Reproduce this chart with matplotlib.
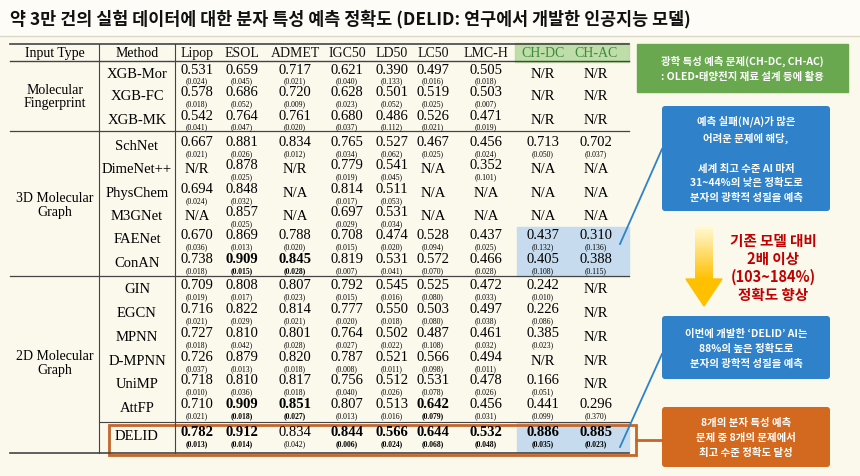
import matplotlib
matplotlib.use("Agg")
import matplotlib.pyplot as plt
from matplotlib.patches import Rectangle, FancyBboxPatch

title = "약 3만 건의 실험 데이터에 대한 분자 특성 예측 정확도 (DELID: 연구에서 개발한 인공지능 모델)"
columns = ["Lipop", "ESOL", "ADMET", "IGC50", "LD50", "LC50", "LMC-H", "CH-DC", "CH-AC"]
groups = [("Molecular\nFingerprint", 3), ("3D Molecular\nGraph", 6), ("2D Molecular\nGraph", 7)]
methods = ["XGB-Mor", "XGB-FC", "XGB-MK", "SchNet", "DimeNet++", "PhysChem", "M3GNet", "FAENet", "ConAN",
           "GIN", "EGCN", "MPNN", "D-MPNN", "UniMP", "AttFP", "DELID"]
means = [
    ["0.531", "0.659", "0.717", "0.621", "0.390", "0.497", "0.505", "N/R", "N/R"],
    ["0.578", "0.686", "0.720", "0.628", "0.501", "0.519", "0.503", "N/R", "N/R"],
    ["0.542", "0.764", "0.761", "0.680", "0.486", "0.526", "0.471", "N/R", "N/R"],
    ["0.667", "0.881", "0.834", "0.765", "0.527", "0.467", "0.456", "0.713", "0.702"],
    ["N/R", "0.878", "N/R", "0.779", "0.541", "N/A", "0.352", "N/A", "N/A"],
    ["0.694", "0.848", "N/A", "0.814", "0.511", "N/A", "N/A", "N/A", "N/A"],
    ["N/A", "0.857", "N/A", "0.697", "0.531", "N/A", "N/A", "N/A", "N/A"],
    ["0.670", "0.869", "0.788", "0.708", "0.474", "0.528", "0.437", "0.437", "0.310"],
    ["0.738", "0.909", "0.845", "0.819", "0.531", "0.572", "0.466", "0.405", "0.388"],
    ["0.709", "0.808", "0.807", "0.792", "0.545", "0.525", "0.472", "0.242", "N/R"],
    ["0.716", "0.822", "0.814", "0.777", "0.550", "0.503", "0.497", "0.226", "N/R"],
    ["0.727", "0.810", "0.801", "0.764", "0.502", "0.487", "0.461", "0.385", "N/R"],
    ["0.726", "0.879", "0.820", "0.787", "0.521", "0.566", "0.494", "N/R", "N/R"],
    ["0.718", "0.810", "0.817", "0.756", "0.512", "0.531", "0.478", "0.166", "N/R"],
    ["0.710", "0.909", "0.851", "0.807", "0.513", "0.642", "0.456", "0.441", "0.296"],
    ["0.782", "0.912", "0.834", "0.844", "0.566", "0.644", "0.532", "0.886", "0.885"],
]
stds = [
    ["0.024", "0.045", "0.021", "0.040", "0.133", "0.016", "0.018", "", ""],
    ["0.018", "0.052", "0.009", "0.023", "0.052", "0.025", "0.007", "", ""],
    ["0.041", "0.047", "0.020", "0.037", "0.112", "0.021", "0.019", "", ""],
    ["0.021", "0.026", "0.012", "0.034", "0.062", "0.025", "0.024", "0.050", "0.037"],
    ["", "0.025", "", "0.019", "0.045", "", "0.101", "", ""],
    ["0.024", "0.032", "", "0.017", "0.053", "", "", "", ""],
    ["", "0.025", "", "0.029", "0.034", "", "", "", ""],
    ["0.036", "0.013", "0.020", "0.015", "0.020", "0.094", "0.025", "0.132", "0.136"],
    ["0.018", "0.015", "0.028", "0.007", "0.041", "0.070", "0.028", "0.108", "0.115"],
    ["0.019", "0.017", "0.023", "0.015", "0.016", "0.080", "0.033", "0.010", ""],
    ["0.021", "0.029", "0.021", "0.020", "0.018", "0.080", "0.038", "0.086", ""],
    ["0.018", "0.042", "0.028", "0.027", "0.022", "0.108", "0.032", "0.023", ""],
    ["0.037", "0.013", "0.018", "0.008", "0.011", "0.098", "0.011", "", ""],
    ["0.010", "0.036", "0.018", "0.040", "0.026", "0.078", "0.026", "0.051", ""],
    ["0.021", "0.018", "0.027", "0.013", "0.016", "0.079", "0.031", "0.099", "0.370"],
    ["0.013", "0.014", "0.042", "0.006", "0.024", "0.068", "0.048", "0.035", "0.023"],
]
bold_cells = [(8, 1), (8, 2), (14, 1), (14, 2), (14, 5),
              (15, 0), (15, 1), (15, 3), (15, 4), (15, 5), (15, 6), (15, 7), (15, 8)]

SERIF = "Liberation Serif"
KR = ["Noto Sans CJK KR", "Noto Sans CJK JP", "Noto Sans CJK SC", "DejaVu Sans"]
BG = "#fbf8ec"

fig = plt.figure(figsize=(8.6, 4.77), dpi=100)
fig.patch.set_facecolor(BG)
ax = fig.add_axes([0, 0, 1, 1])
ax.set_xlim(0, 860); ax.set_ylim(477, 0); ax.axis("off")

# title bar
ax.add_patch(Rectangle((0, 0), 860, 37, color="#fdfcf6"))
ax.plot([0, 860], [37, 37], color="#dcd8c8", lw=1)
ax.text(10, 19, title, fontfamily=KR, fontsize=12.5, fontweight="bold", va="center", ha="left", color="#111")

# table
col_x = [197, 242, 295, 347, 392, 433, 486, 543, 596]
row_y = [74, 97, 120, 147, 170, 194, 217, 240, 264, 290, 314, 338, 362, 385, 409, 437]
ax.add_patch(Rectangle((515, 44), 114, 19, color="#b5d99c", alpha=0.85))
ax.add_patch(Rectangle((517, 228), 112, 49, color="#c6dcee"))
ax.add_patch(Rectangle((517, 424), 112, 29, color="#c6dcee"))
ax.plot([10, 629], [45, 45], color="#444", lw=1.2)
ax.plot([10, 629], [62, 62], color="#444", lw=1.0)
ax.plot([10, 629], [132, 132], color="#444", lw=0.9)
ax.plot([10, 629], [277, 277], color="#444", lw=0.9)
ax.plot([99, 629], [423, 423], color="#444", lw=0.8)
ax.plot([10, 629], [454, 454], color="#444", lw=1.2)
for vx in (99, 175):
    ax.plot([vx, vx], [45, 454], color="#444", lw=0.8)

ax.text(55, 53.5, "Input Type", fontfamily=SERIF, fontsize=10, ha="center", va="center")
ax.text(137, 53.5, "Method", fontfamily=SERIF, fontsize=10, ha="center", va="center")
for j, c in enumerate(columns):
    ax.text(col_x[j], 53.5, c, fontfamily=SERIF, fontsize=10, ha="center", va="center",
            color="#3c8a3c" if j >= 7 else "#111")

start = 0
for name, n in groups:
    yc = (row_y[start] + row_y[start + n - 1]) / 2
    ax.text(55, yc, name, fontfamily=SERIF, fontsize=10, ha="center", va="center", linespacing=1.1)
    start += n

for i, m in enumerate(methods):
    y = row_y[i]
    ax.text(137, y, m, fontfamily=SERIF, fontsize=10.5, ha="center", va="center")
    for j in range(len(columns)):
        b = "bold" if (i, j) in bold_cells else "normal"
        if stds[i][j]:
            ax.text(col_x[j], y - 4, means[i][j], fontfamily=SERIF, fontsize=10.5, ha="center", va="center", fontweight=b)
            ax.text(col_x[j], y + 7.5, "(" + stds[i][j] + ")", fontfamily=SERIF, fontsize=5.5, ha="center", va="center", fontweight=b)
        else:
            ax.text(col_x[j], y, means[i][j], fontfamily=SERIF, fontsize=10.5, ha="center", va="center")

# DELID highlight
ax.add_patch(Rectangle((109, 426), 527, 30, fill=False, ec="#c5662a", lw=2))
ax.plot([636, 662], [441, 441], color="#c5662a", lw=2)

# right side boxes
ax.add_patch(Rectangle((637, 45), 211, 48, color="#6aa84f"))
ax.text(742, 69, "광학 특성 예측 문제(CH-DC, CH-AC)\n: OLED•태양전지 재료 설계 등에 활용", fontfamily=KR,
        fontsize=7.5, fontweight="bold", color="white", ha="center", va="center", linespacing=1.6)

def box(x0, y0, x1, y1, txt, fc="#2f82c9"):
    ax.add_patch(FancyBboxPatch((x0, y0), x1 - x0, y1 - y0, boxstyle="round,pad=0,rounding_size=3", fc=fc, ec="none"))
    ax.text((x0 + x1) / 2, (y0 + y1) / 2, txt, fontfamily=KR, fontsize=7.5, fontweight="bold",
            color="white", ha="center", va="center", linespacing=1.6)

box(662, 107, 830, 212, "예측 실패(N/A)가 많은\n어려운 문제에 해당,\n\n세계 최고 수준 AI 마저\n31~44%의 낮은 정확도로\n분자의 광학적 성질을 예측")
box(662, 317, 830, 380, "이번에 개발한 ‘DELID’ AI는\n88%의 높은 정확도로\n분자의 광학적 성질을 예측")
box(662, 408, 830, 468, "8개의 분자 특성 예측\n문제 중 8개의 문제에서\n최고 수준 정확도 달성", fc="#d2691e")

ax.plot([662, 620], [150, 245], color="#2f82c9", lw=1.3)
ax.plot([662, 620], [355, 448], color="#2f82c9", lw=1.3)

# yellow arrow (gradient)
for k in range(30):
    t = k / 30
    col = (1.0, 0.98 - 0.23 * t, 0.85 - 0.85 * t)
    ax.add_patch(Rectangle((695, 226 + k * 1.8), 18, 1.9, color=col, lw=0))
ax.add_patch(plt.Polygon([[686, 280], [722, 280], [704, 307]], color="#ffc000"))

ax.text(773, 268, "기존 모델 대비\n2배 이상\n(103~184%)\n정확도 향상", fontfamily=KR, fontsize=10.5,
        fontweight="bold", color="#c00000", ha="center", va="center", linespacing=1.15)

fig.savefig("out.png", dpi=100, facecolor=fig.get_facecolor())
